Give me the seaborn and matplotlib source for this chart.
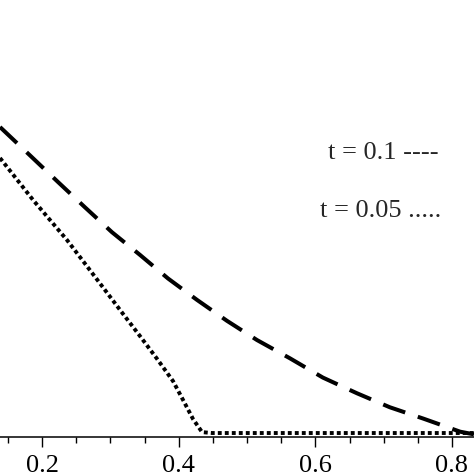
import numpy as np
import pandas as pd
import matplotlib
matplotlib.use("Agg")
import matplotlib.pyplot as plt
from matplotlib.ticker import MultipleLocator
import seaborn as sns

# values
x_t01 = [0.1385, 0.1824, 0.2234, 0.2629, 0.3024, 0.3434, 0.3844, 0.4268,
         0.4707, 0.5146, 0.563, 0.611, 0.661, 0.709, 0.758, 0.812, 0.832]
y_t01 = [0.709, 0.644, 0.583, 0.525, 0.468, 0.416, 0.362, 0.313,
         0.265, 0.221, 0.179, 0.135, 0.099, 0.067, 0.041, 0.011, 0.005]

x_t005 = [0.1385, 0.1868, 0.2366, 0.2702, 0.3185, 0.3434, 0.3683, 0.3917,
          0.4063, 0.4210, 0.4342, 0.4488, 0.55, 0.65, 0.75, 0.832]
y_t005 = [0.638, 0.542, 0.450, 0.381, 0.281, 0.230, 0.178, 0.127,
          0.084, 0.040, 0.010, 0.008, 0.008, 0.008, 0.008, 0.008]

sns.set_style("ticks")
plt.rcParams['font.family'] = ['Liberation Serif', 'DejaVu Serif']

fig = plt.figure(figsize=(4.74, 4.74), dpi=100)
ax = fig.add_axes([0, 0.0791, 1, 0.9209])

df1 = pd.DataFrame({'x': x_t01, 'y': y_t01})
df2 = pd.DataFrame({'x': x_t005, 'y': y_t005})

sns.lineplot(data=df1, x='x', y='y', ax=ax, color='black', lw=2.9,
             linestyle=(0, (5.8, 3.3)), sort=False)
sns.lineplot(data=df2, x='x', y='y', ax=ax, color='black', lw=2.8,
             linestyle=(0, (1, 0.8)), sort=False)
for ln in ax.lines:
    ln.set_dash_capstyle('butt')
    ln.set_clip_on(False)

ax.set_xlim(0.1385, 0.8322)
ax.set_ylim(0, 1)
ax.xaxis.set_minor_locator(MultipleLocator(0.05))
ax.set_xticks([0.2, 0.4, 0.6, 0.8])
ax.set_xticklabels(['0.2', '0.4', '0.6', '0.8'])
ax.tick_params(axis='x', which='major', direction='out', length=7, width=1,
               pad=6, labelsize=19, colors='black')
ax.tick_params(axis='x', which='minor', direction='out', length=4.3, width=1,
               colors='black')
ax.set_yticks([])
for s in ['left', 'top', 'right']:
    ax.spines[s].set_visible(False)
ax.spines['bottom'].set_linewidth(1.1)
ax.spines['bottom'].set_color('black')
ax.set_xlabel('')
ax.set_ylabel('')

ax.text(0.6186, 0.636, 't = 0.1 ----', fontsize=19, va='baseline', ha='left')
ax.text(0.6068, 0.503, 't = 0.05 .....', fontsize=19, va='baseline', ha='left')

fig.savefig('out.png', dpi=100, facecolor='white')
